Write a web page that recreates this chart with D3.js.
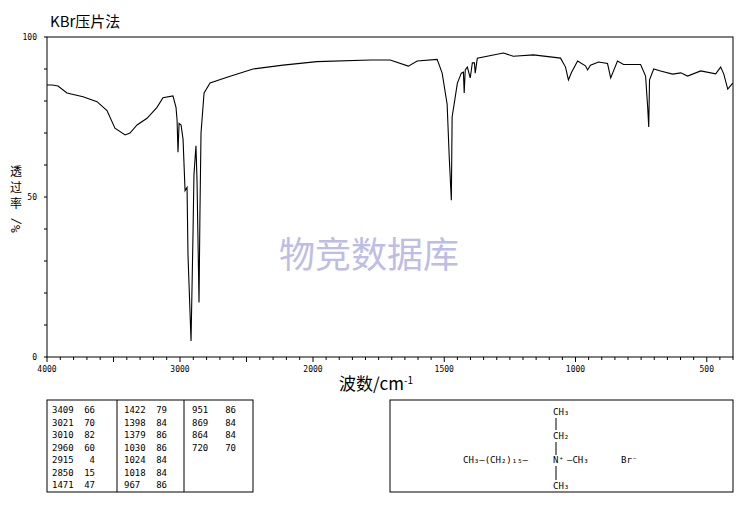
<!DOCTYPE html><html><head><meta charset="utf-8"><script src="https://cdn.jsdelivr.net/npm/d3@7"></script>
<style>body{margin:0;background:#fff}</style></head><body><svg id="c" width="737" height="510"></svg><script>
const wavenumbers=[4000,3960,3917,3850,3729,3624,3549,3489,3413,3376,3323,3248,3173,3128,3053,3030,3022,3015,3007,2992,2977,2962,2947,2940,2917,2902,2895,2880,2872,2857,2850,2842,2819,2774,2646,2451,2225,1985,1782,1706,1637,1603,1527,1508,1489,1481,1473,1470,1450,1435,1427,1424,1420,1412,1401,1393,1385,1382,1374,1275,1237,1160,1057,1038,1027,1015,992,962,954,943,912,878,866,840,817,752,733,725,721,718,702,676,630,599,573,523,466,447,435,420,401];
const transmittance=[85,85,84.7,82.5,81.3,79.8,77,71.5,69.4,70,72.5,74.6,78,81,81.6,78,74,64,73,72.5,68,52,53,32,5,39,57,66,55,17,45,70,82.5,85.6,87.4,90,91.2,92.3,92.8,92.8,90.9,92.5,93,88.7,79,62.5,49,75,85.6,88.7,89,82.5,89.7,90.6,87.2,91.9,91.9,88.7,93.4,95,94,94.4,93.4,90.6,86.6,89,92.5,91,89.7,91.2,92.2,91.7,87.2,92.5,91.4,91.4,87.8,78,71.9,86.6,90,89.4,88.4,88.8,87.8,89.4,88.5,90.6,88.4,83.7,85.6];
const xTickLabels=[4000,3000,2000,1500,1000,500];
const yTickLabels=[0,50,100];
const peakTable=[["3409","66","1422","79","951","86"],["3021","70","1398","84","869","84"],["3010","82","1379","86","864","84"],["2960","60","1030","86","720","70"],["2915","4","1024","84","",""],["2850","15","1018","84","",""],["1471","47","967","86","",""]];
const svg=d3.select("#c");
const L=47,R=733,T=37,B=357;
const x=d3.scaleLinear().domain([4000,2000,400]).range([L,313,R]);
const y=d3.scaleLinear().domain([0,100]).range([B,T]);
const f="'DejaVu Sans Mono',monospace";
svg.append("rect").attr("x",L).attr("y",T).attr("width",R-L).attr("height",B-T).attr("fill","none").attr("stroke","#000");
const minor=d3.range(4000,2000,-100).concat(d3.range(2000,399,-50));
svg.append("g").selectAll("line").data(minor).join("line").attr("x1",d=>x(d)).attr("x2",d=>x(d)).attr("y1",B).attr("y2",d=>d%500===0?B+5:B+3).attr("stroke","#000");
svg.append("g").selectAll("text").data(xTickLabels).join("text").attr("x",d=>x(d)).attr("y",B+15).attr("text-anchor","middle").attr("font-family",f).attr("font-size",8).text(d=>d);
svg.append("g").selectAll("line").data(d3.range(0,101,10)).join("line").attr("x1",L-3).attr("x2",L).attr("y1",d=>y(d)).attr("y2",d=>y(d)).attr("stroke","#000");
svg.append("g").selectAll("text").data(yTickLabels).join("text").attr("x",L-10).attr("y",d=>y(d)+3).attr("text-anchor","end").attr("font-family",f).attr("font-size",8).text(d=>d);
svg.append("text").attr("x",369).attr("y",268).attr("text-anchor","middle").attr("font-family","'Noto Sans CJK SC'").attr("font-size",36).attr("fill","#bdbde6").text("物竞数据库");
const line=d3.line().x((d,i)=>x(wavenumbers[i])).y(d=>y(d));
svg.append("path").datum(transmittance).attr("d",line).attr("fill","none").attr("stroke","#000").attr("stroke-width",1.1);
svg.append("text").attr("x",50).attr("y",27).attr("font-family","'Noto Sans CJK SC'").attr("font-size",15).text("KBr压片法");
svg.append("text").attr("x",376).attr("y",390).attr("text-anchor","middle").attr("font-family","'Noto Sans CJK SC'").attr("font-size",17).text("波数/cm").append("tspan").attr("dy",-6).attr("font-size",10).text("-1");
["透","过","率"].forEach((c,i)=>svg.append("text").attr("x",16).attr("y",176+i*16).attr("text-anchor","middle").attr("font-family","'Noto Sans CJK SC'").attr("font-size",12).text(c));
svg.append("text").attr("transform","translate(20,225) rotate(-90)").attr("text-anchor","middle").attr("font-family",f).attr("font-size",13).text("%/");
svg.append("rect").attr("x",47).attr("y",400).attr("width",206).attr("height",92).attr("fill","none").attr("stroke","#000");
[117,184].forEach(v=>svg.append("line").attr("x1",v).attr("x2",v).attr("y1",400).attr("y2",492).attr("stroke","#000"));
const colX=[52,95,124,167,192,236];
peakTable.forEach((r,i)=>r.forEach((v,j)=>svg.append("text").attr("x",colX[j]).attr("y",413+i*12.5).attr("text-anchor",j%2?"end":"start").attr("font-family",f).attr("font-size",9).text(v)));
svg.append("rect").attr("x",390).attr("y",400).attr("width",343).attr("height",92).attr("fill","none").attr("stroke","#000");
const s=svg.append("g").attr("font-family",f).attr("font-size",9);
s.append("text").attr("x",553).attr("y",415).text("CH₃");
s.append("text").attr("x",553).attr("y",439).text("CH₂");
s.append("text").attr("x",553).attr("y",489).text("CH₃");
s.append("text").attr("x",463).attr("y",463).text("CH₃—(CH₂)₁₅—");
s.append("text").attr("x",553).attr("y",463).text("N⁺");
s.append("text").attr("x",567).attr("y",463).text("—CH₃");
s.append("text").attr("x",621).attr("y",463).text("Br⁻");
[[418,430],[442,455],[466,480]].forEach(a=>s.append("line").attr("x1",556).attr("x2",556).attr("y1",a[0]).attr("y2",a[1]).attr("stroke","#000"));
</script></body></html>
